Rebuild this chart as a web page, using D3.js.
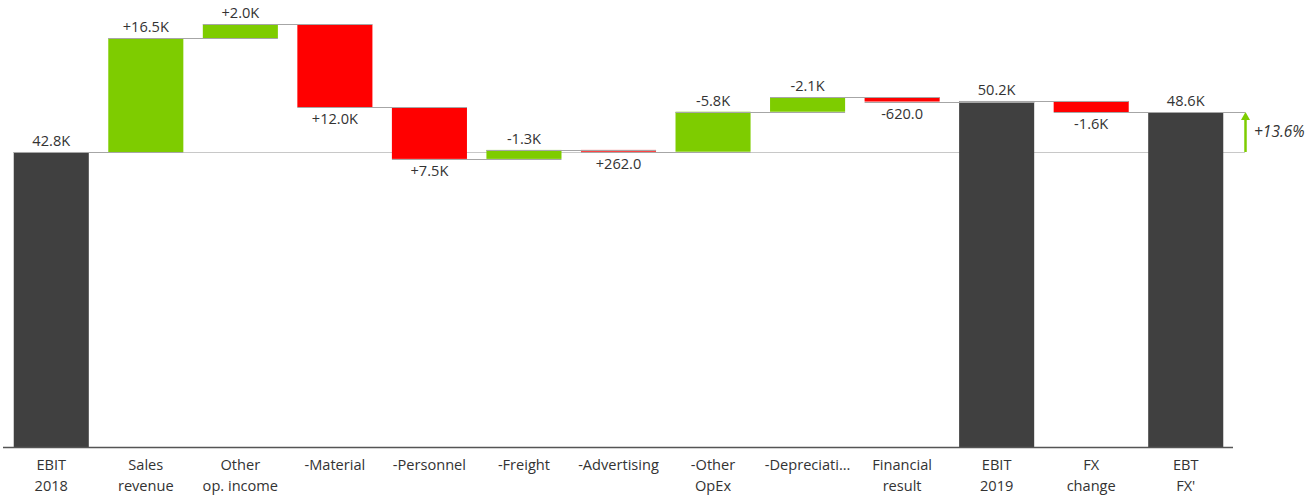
<!DOCTYPE html>
<html><head><meta charset="utf-8">
<script src="https://cdn.jsdelivr.net/npm/d3@7"></script>
<style>
html,body{margin:0;padding:0;background:#fff;}
svg{display:block;font-family:"Segoe UI","Open Sans",sans-serif;}
</style></head>
<body>
<svg id="chart" width="1310" height="498"></svg>
<script>
// Data (thousands)
const categories = [["EBIT","2018"],["Sales","revenue"],["Other","op. income"],["-Material"],["-Personnel"],["-Freight"],["-Advertising"],["-Other","OpEx"],["-Depreciati…"],["Financial","result"],["EBIT","2019"],["FX","change"],["EBT","FX'"]];
const values = [42.8, 16.5, 2.0, 12.0, 7.5, -1.3, 0.262, -5.8, -2.1, -0.62, 50.2, -1.6, 48.6];
const kinds = ["total","add","add","sub","sub","sub","sub","sub","sub","add","total","add","total"];
const labels = ["42.8K","+16.5K","+2.0K","+12.0K","+7.5K","-1.3K","+262.0","-5.8K","-2.1K","-620.0","50.2K","-1.6K","48.6K"];
const deltaLabel = "+13.6%";

const svg = d3.select("#chart");
const x = d3.scaleBand().domain(d3.range(categories.length)).range([4, 1233]).paddingInner(0.206).paddingOuter(0.103);
const y = d3.scaleLinear().domain([0, 64.85]).range([447, 0]);

const GREEN = "#7ecc00", RED = "#ff0000", DARK = "#404040", GRAY = "#a6a6a6";
const FS = 14.6;

// compute bars
let run = 0;
const bars = values.map((v, i) => {
  let start, end;
  if (kinds[i] === "total") { start = 0; end = v; run = v; }
  else {
    const eff = kinds[i] === "add" ? v : -v;
    start = run; end = run + eff; run = end;
  }
  return {i, start, end, total: kinds[i] === "total", up: end >= start};
});

// reference line at first total level
const baseVal = values[0];
svg.append("line").attr("x1", x(0)).attr("x2", 1245)
  .attr("y1", Math.round(y(baseVal)) + 0.5).attr("y2", Math.round(y(baseVal)) + 0.5)
  .attr("stroke", "#c8c8c8").attr("stroke-width", 1);

// bars
svg.selectAll("rect.bar").data(bars).join("rect")
  .attr("x", d => x(d.i))
  .attr("width", x.bandwidth())
  .attr("y", d => y(Math.max(d.start, d.end)))
  .attr("height", d => Math.max(1.5, Math.abs(y(d.start) - y(d.end))))
  .attr("fill", d => d.total ? DARK : (d.up ? GREEN : RED));

// connectors
const conn = [];
bars.forEach((d, i) => {
  if (i < bars.length - 1) conn.push({x1: x(i), x2: x(i + 1) + x.bandwidth(), v: d.end});
});
conn.push({x1: x(bars.length - 1), x2: 1245, v: bars[bars.length - 1].end});
svg.selectAll("line.conn").data(conn).join("line")
  .attr("x1", d => d.x1).attr("x2", d => d.x2)
  .attr("y1", d => Math.round(y(d.v)) + 0.5).attr("y2", d => Math.round(y(d.v)) + 0.5)
  .attr("stroke", GRAY).attr("stroke-width", 1);

// value labels
svg.selectAll("text.val").data(bars).join("text")
  .attr("x", d => x(d.i) + x.bandwidth() / 2)
  .attr("y", d => d.up || d.total ? y(Math.max(d.start, d.end)) - 6 : y(Math.min(d.start, d.end)) + 17)
  .attr("text-anchor", "middle")
  .attr("font-size", FS).attr("fill", "#333")
  .text((d, i) => labels[i]);

// axis line
svg.append("line").attr("x1", 3).attr("x2", 1233).attr("y1", 447.5).attr("y2", 447.5)
  .attr("stroke", "#555").attr("stroke-width", 1.5);

// category labels
const cat = svg.selectAll("text.cat").data(categories).join("text")
  .attr("text-anchor", "middle").attr("font-size", FS).attr("fill", "#333");
cat.each(function(lines, i) {
  const t = d3.select(this);
  lines.forEach((l, j) => {
    t.append("tspan").attr("x", x(i) + x.bandwidth() / 2).attr("y", 470 + j * 21).text(l);
  });
});

// delta arrow
const ax = 1245.5;
const yTop = y(values[values.length - 1]), yBot = y(baseVal);
svg.append("line").attr("x1", ax).attr("x2", ax).attr("y1", yBot).attr("y2", yTop + 6)
  .attr("stroke", GREEN).attr("stroke-width", 2.5);
svg.append("path").attr("d", `M${ax - 4.5},${yTop + 8} L${ax},${yTop} L${ax + 4.5},${yTop + 8} Z`).attr("fill", GREEN);
svg.append("text").attr("x", 1254).attr("y", (yTop + yBot) / 2 + 5)
  .attr("font-size", 15.5).attr("font-style", "italic").attr("fill", "#333").text(deltaLabel);
</script>
</body></html>
